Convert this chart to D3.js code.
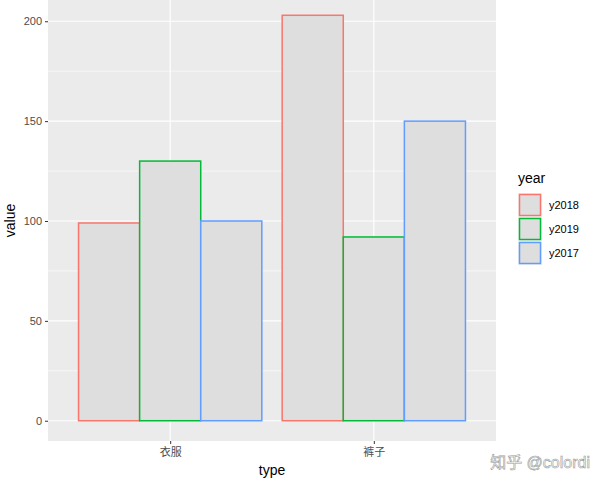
<!DOCTYPE html>
<html><head><meta charset="utf-8">
<script src="https://cdn.jsdelivr.net/npm/d3@7"></script>
<style>body{margin:0;background:#fff}text{font-family:"Liberation Sans","Noto Sans CJK SC",sans-serif}</style>
</head><body>
<script>
const types = ['衣服', '裤子'];
const years = ['y2018', 'y2019', 'y2017'];
const values = {
  y2018: [99, 203],
  y2019: [130, 92],
  y2017: [100, 150]
};
const colors = ['#F8766D', '#00BA38', '#619CFF'];
const yTicks = [0, 50, 100, 150, 200];

const width = 600, height = 485;
const panel = {left: 48, right: 496, top: 0, bottom: 441};

const svg = d3.select('body').append('svg')
  .attr('width', width).attr('height', height);

svg.append('rect')
  .attr('x', panel.left).attr('y', panel.top)
  .attr('width', panel.right - panel.left).attr('height', panel.bottom - panel.top)
  .attr('fill', '#EBEBEB');

const x = d3.scaleLinear().domain([0.4, 2.6]).range([panel.left, panel.right]);
const y = d3.scaleLinear().domain([-10.15, 213.15]).range([panel.bottom, panel.top - 5]);

// grid
const g = svg.append('g');
[25, 75, 125, 175].forEach(v => g.append('line')
  .attr('x1', panel.left).attr('x2', panel.right).attr('y1', y(v)).attr('y2', y(v))
  .attr('stroke', '#fff').attr('stroke-width', 0.6));
yTicks.forEach(v => g.append('line')
  .attr('x1', panel.left).attr('x2', panel.right).attr('y1', y(v)).attr('y2', y(v))
  .attr('stroke', '#fff').attr('stroke-width', 1.2));
types.forEach((t, i) => g.append('line')
  .attr('x1', x(i + 1)).attr('x2', x(i + 1)).attr('y1', panel.top).attr('y2', panel.bottom)
  .attr('stroke', '#fff').attr('stroke-width', 1.2));

// bars
const bw = 0.9 / 3;
years.forEach((yr, j) => {
  svg.append('g').selectAll('rect')
    .data(values[yr])
    .enter().append('rect')
    .attr('x', (d, i) => x(i + 1 - 0.45 + j * bw))
    .attr('width', x(bw) - x(0))
    .attr('y', d => y(d))
    .attr('height', d => y(0) - y(d))
    .attr('fill', '#DEDEDE')
    .attr('stroke', colors[j])
    .attr('stroke-width', 1.5);
});

// axes
const yAxis = svg.append('g').attr('transform', `translate(${panel.left},0)`)
  .call(d3.axisLeft(y).tickValues(yTicks).tickSize(3).tickPadding(3));
const xAxis = svg.append('g').attr('transform', `translate(0,${panel.bottom})`)
  .call(d3.axisBottom(x).tickValues([1, 2]).tickFormat(d => types[d - 1]).tickSize(3).tickPadding(4));
[yAxis, xAxis].forEach(a => {
  a.select('.domain').remove();
  a.selectAll('line').attr('stroke', '#333');
  a.selectAll('text').attr('fill', '#4D4D4D').style('font-size', '11px');
});

svg.append('text').attr('x', (panel.left + panel.right) / 2).attr('y', 475)
  .attr('text-anchor', 'middle').style('font-size', '14px').text('type');
svg.append('text').attr('transform', `translate(15,${(panel.top + panel.bottom) / 2}) rotate(-90)`)
  .attr('text-anchor', 'middle').style('font-size', '14px').text('value');

// legend
const leg = svg.append('g').attr('transform', 'translate(518,0)');
leg.append('text').attr('x', 0).attr('y', 183).style('font-size', '14px').text('year');
years.forEach((yr, j) => {
  const ky = 193 + j * 24;
  leg.append('rect').attr('x', 0).attr('y', ky).attr('width', 24).attr('height', 24).attr('fill', '#F2F2F2');
  leg.append('rect').attr('x', 1.5).attr('y', ky + 1.5).attr('width', 21).attr('height', 21)
    .attr('fill', '#DEDEDE').attr('stroke', colors[j]).attr('stroke-width', 1.5);
  leg.append('text').attr('x', 31).attr('y', ky + 16).style('font-size', '11px').attr('fill', '#000').text(yr);
});

// watermark
svg.append('text').attr('x', 590).attr('y', 468).attr('text-anchor', 'end')
  .style('font-size', '16px').attr('fill', '#fff').attr('stroke', '#999').attr('stroke-width', 0.6)
  .text('知乎 @colordi');
</script>
</body></html>
